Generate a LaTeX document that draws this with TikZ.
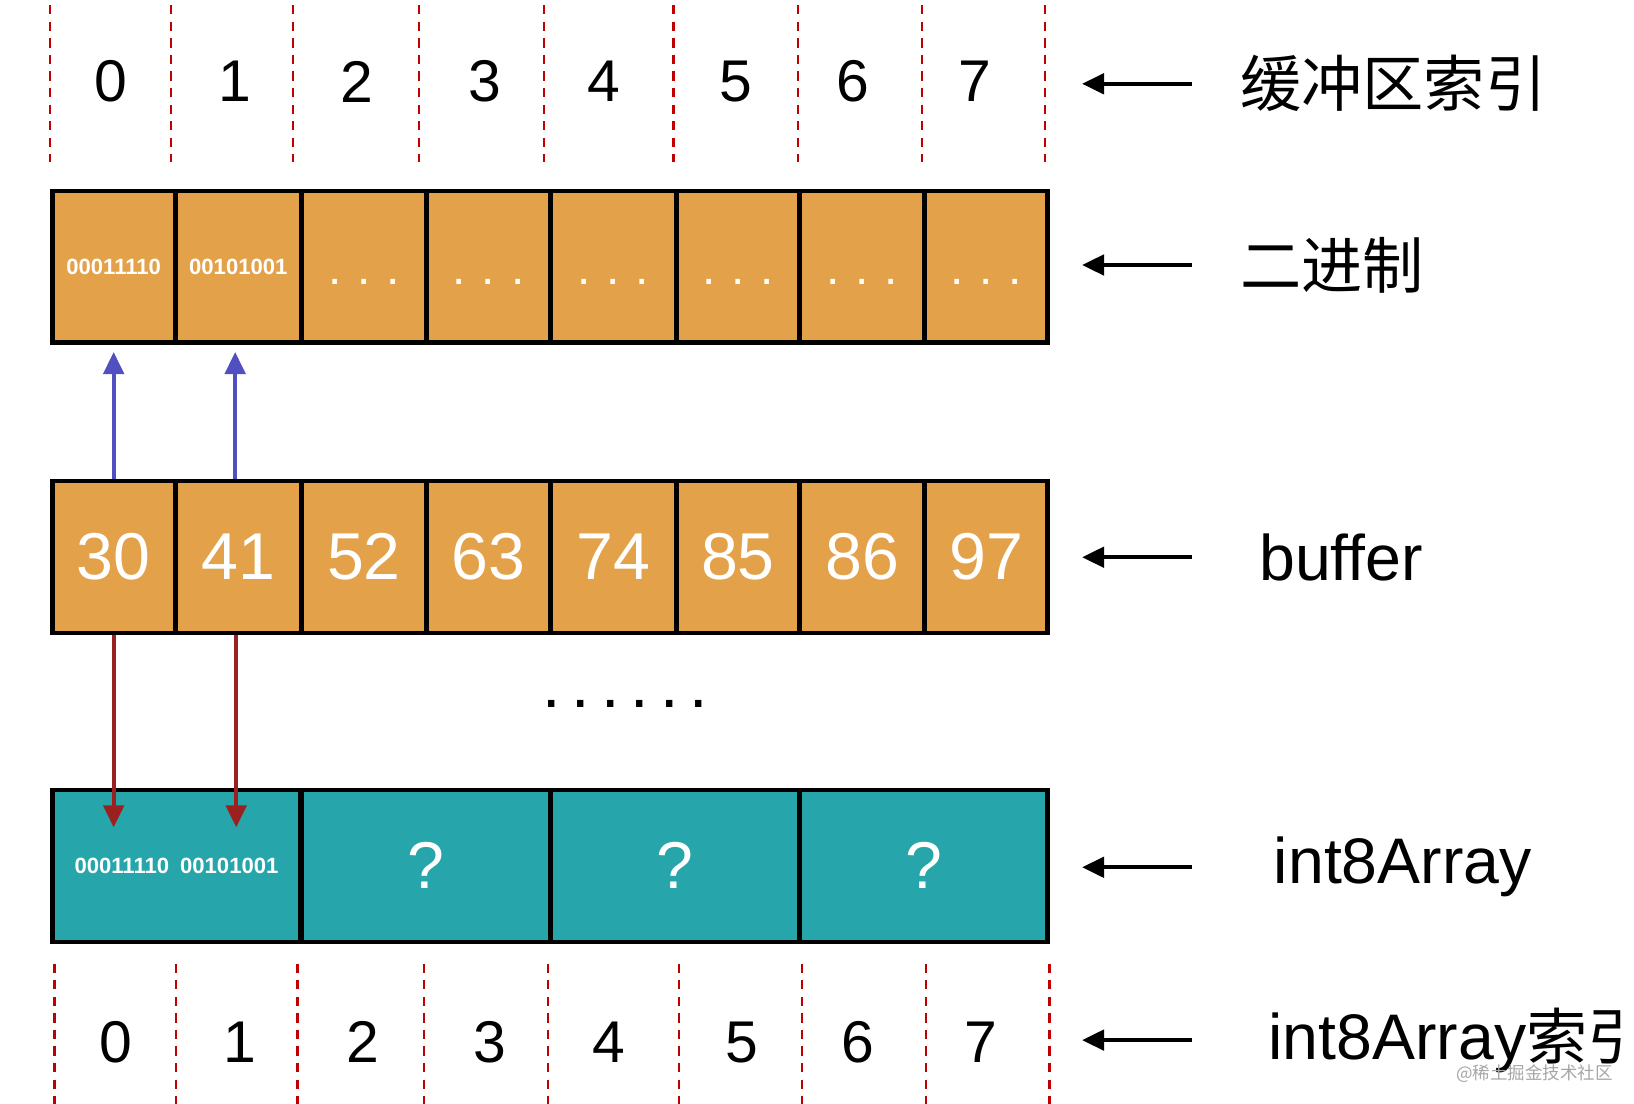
\documentclass[tikz,border=0pt]{standalone}
\usepackage{fontspec}
\setmainfont{Liberation Sans}
\newfontfamily\cjk{Noto Sans CJK SC}[Scale=0.95]
\usetikzlibrary{arrows.meta}
\definecolor{cellorange}{HTML}{E3A24A}
\definecolor{cellteal}{HTML}{26A6AA}
\definecolor{upblue}{HTML}{5050C0}
\definecolor{downred}{HTML}{9B2020}
\tikzset{
  cell/.style={draw=black, line width=2.3pt, minimum height=2.9cm, inner sep=0pt, text=white, anchor=north west},
  idx/.style={font=\fontsize{32}{32}\selectfont},
  sep/.style={red!75!black, dashed, line width=1.2pt, dash pattern=on 5pt off 4pt},
  pointer/.style={-{Triangle[length=12pt,width=11pt]}, line width=2.3pt},
  tag/.style={anchor=west, font=\fontsize{35}{35}\selectfont}
}
\begin{document}
\begin{tikzpicture}[x=0.02cm, y=-0.02cm]
\useasboundingbox (0,0) rectangle (1560,1054);
% index rows
\foreach \x in {48,163,280,400,519,643,762,880,998} \draw[sep] (\x,5) -- (\x,155);
\foreach \x/\t [count=\i from 0] in {106/0,224/1,341/2,463/3,577/4,703/5,814/6,931/7}
  \node[idx] (top\i) at (\x,78) {\t};
\foreach \x in {52,168,284,405,523,648,766,884,1002} \draw[sep] (\x,920) -- (\x,1054);
\foreach \x/\t [count=\i from 0] in {111/0,229/1,346/2,468/3,581/4,708/5,819/6,936/7}
  \node[idx] (bot\i) at (\x,995) {\t};
% binary row
\foreach \x/\w/\t [count=\i from 0] in {48/117/{\bfseries\fontsize{12}{12}\selectfont 00011110},166/119/{\bfseries\fontsize{12}{12}\selectfont 00101001},286/119/,406/117/,524/119/,644/117/,762/118/,881/117/}
  \node[cell, fill=cellorange, minimum width=\w*0.02cm] (bin\i) at (\x,180) {\t};
\foreach \i in {2,...,7}
  \node[text=white, font=\fontsize{26}{26}\selectfont] at ([yshift=-0.3cm]bin\i.center) {.\,\,.\,\,.};
% buffer row
\foreach \x/\w/\t [count=\i from 0] in {48/117/30,166/119/41,286/119/52,406/117/63,524/119/74,644/117/85,762/118/86,881/117/97}
  \node[cell, fill=cellorange, minimum width=\w*0.02cm, font=\fontsize{36}{36}\selectfont] (buf\i) at (\x,457) {\t};
% int8Array row
\node[cell, fill=cellteal, minimum width=4.74cm, font=\bfseries\fontsize{12}{12}\selectfont] (arr0) at (48,752) {00011110\,\,\,00101001};
\foreach \x/\w [count=\i from 1] in {286/237,524/237,762/236}
  \node[cell, fill=cellteal, minimum width=\w*0.02cm, font=\fontsize{36}{36}\selectfont] (arr\i) at (\x,752) {?};
\node[font=\fontsize{36}{36}\selectfont] (gap) at (597,672) {.\,.\,.\,.\,.\,.};
% pointers between rows
\draw[pointer, upblue] (buf0.north) -- ([yshift=-0.14cm]bin0.south);
\draw[pointer, upblue] ([xshift=-0.06cm]buf1.north) -- ([xshift=-0.06cm, yshift=-0.14cm]bin1.south);
\draw[pointer, downred] (buf0.south) -- ([yshift=-0.76cm]arr0.north west -| buf0.south);
\draw[pointer, downred] ([xshift=-0.04cm]buf1.south) -- ([xshift=-0.04cm, yshift=-0.76cm]arr0.north west -| buf1.south);
% labels on the right
\foreach \y/\t/\x [count=\i] in {80/{\cjk 缓冲区索引}/1178,253/{\cjk 二进制}/1178,532/buffer/1196,828/int8Array/1210,993/{int8Array\cjk 索引}/1205}{
  \coordinate (from\i) at (1138,\y);
  \coordinate (to\i) at (1033,\y);
  \draw[pointer, black] (from\i) -- (to\i);
  \node[tag] (lab\i) at (\x,\y) {\t};
}
\node[gray!70, font=\cjk\fontsize{10}{10}\selectfont] (mark) at (1465,1025) {@稀土掘金技术社区};
\end{tikzpicture}
\end{document}
